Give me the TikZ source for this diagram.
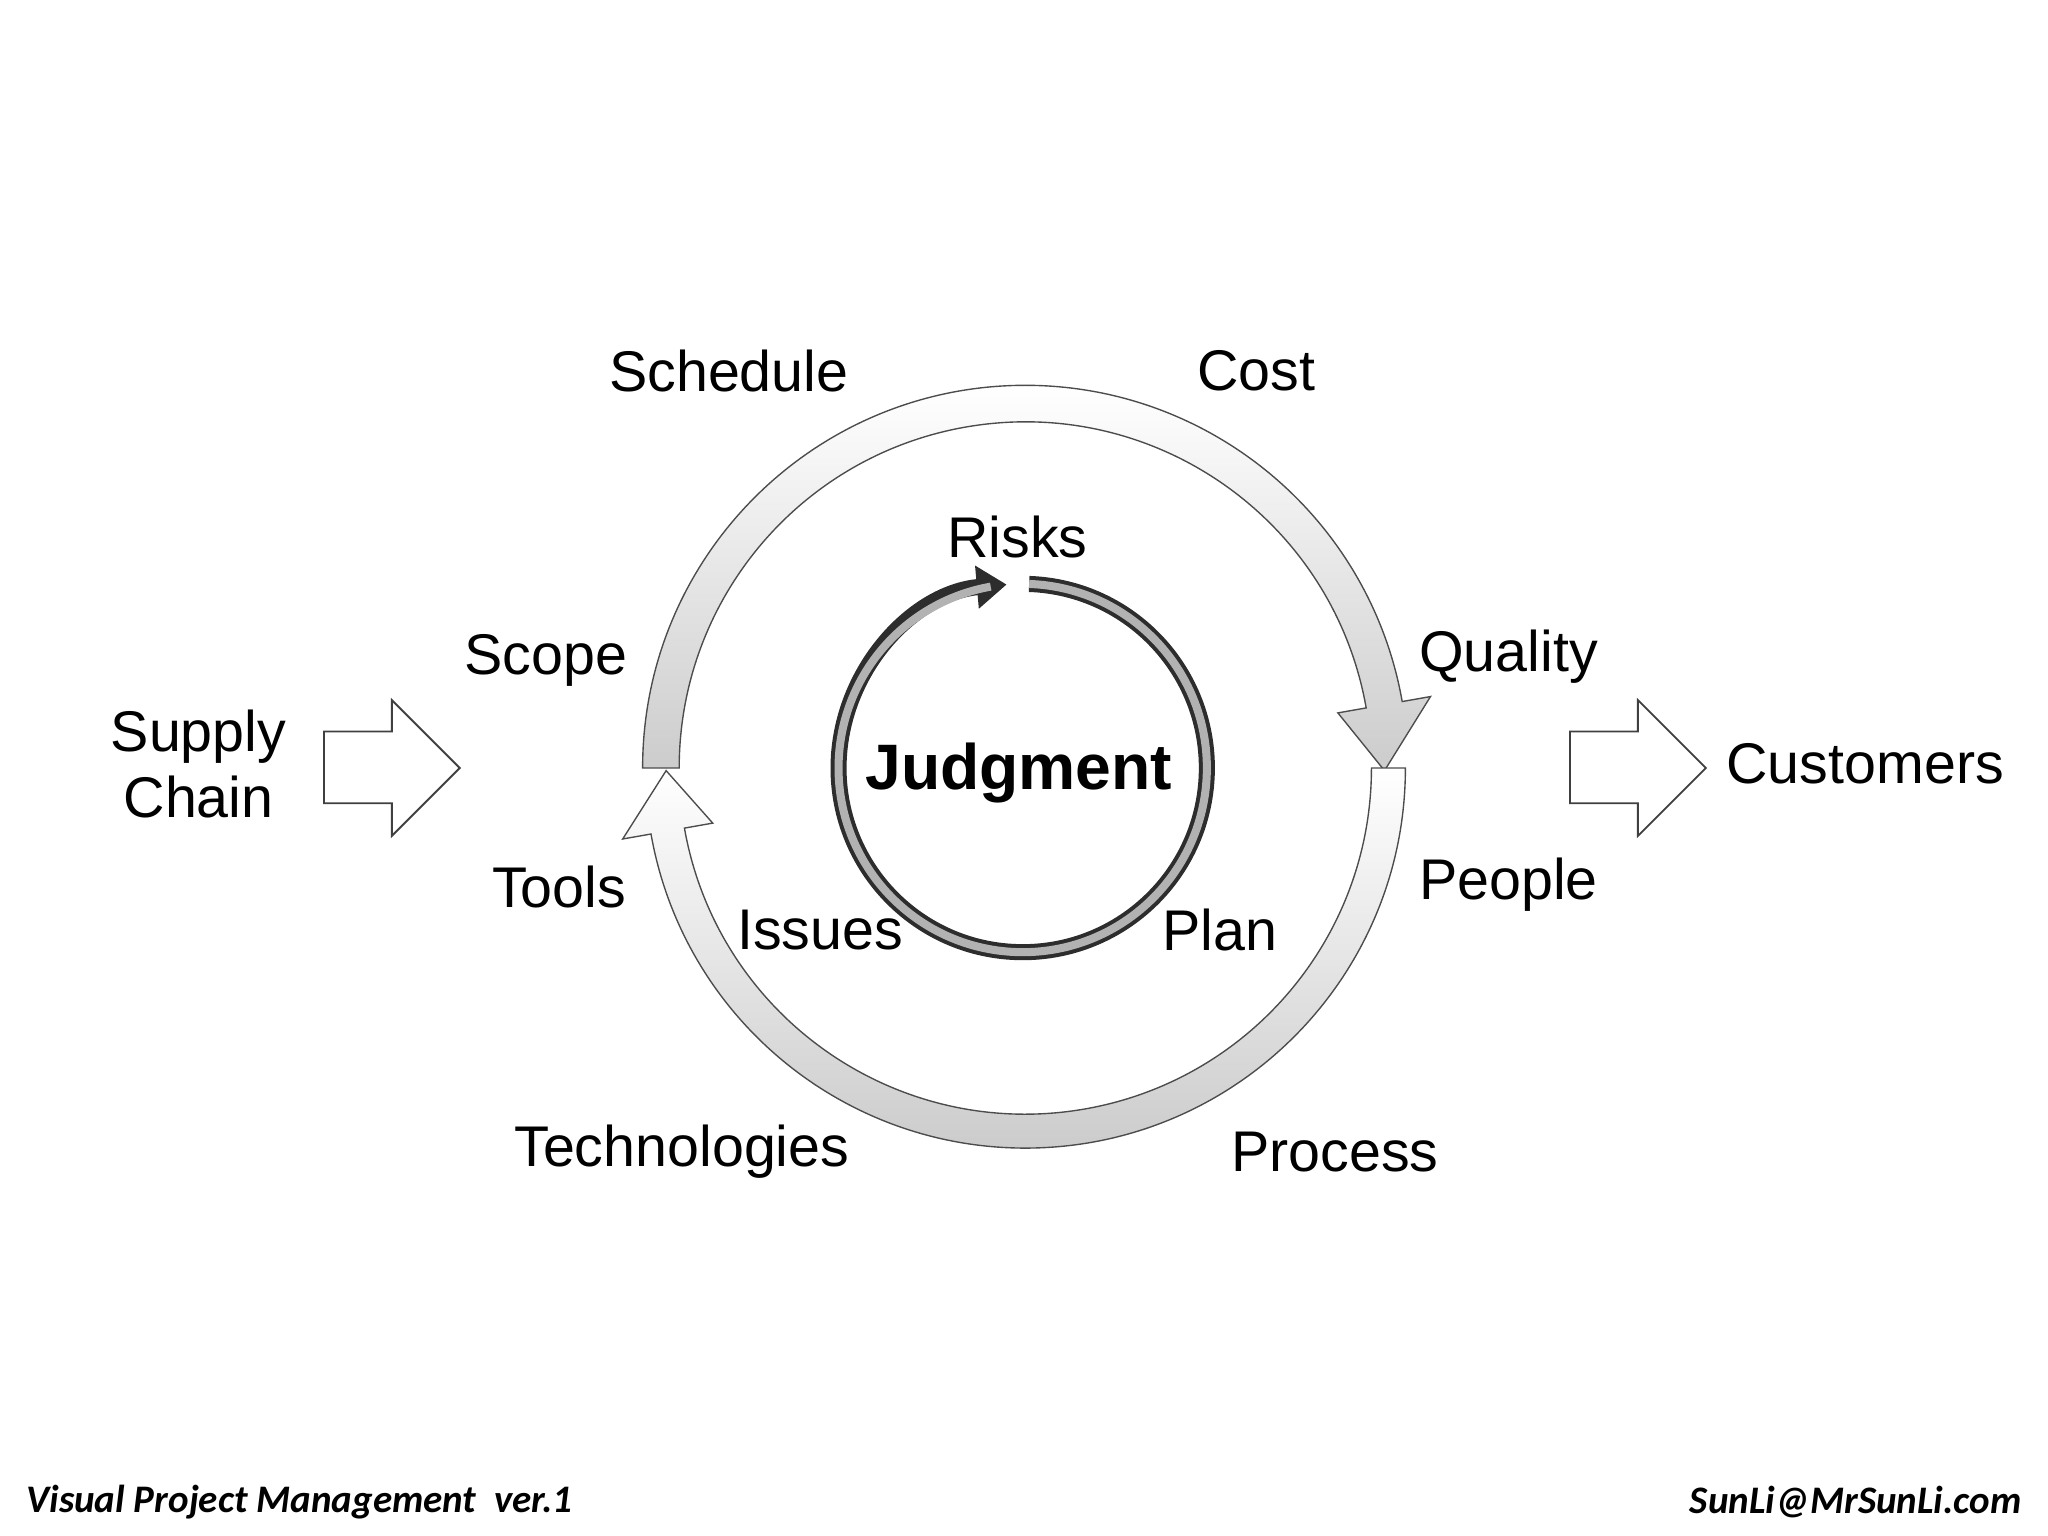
\documentclass[tikz,border=0pt]{standalone}
\usepackage{fontspec}
\setmainfont{Liberation Sans}
\newfontfamily\footfont{Carlito}
\usetikzlibrary{arrows.meta,calc}
\begin{document}
\begin{tikzpicture}[x=0.02cm,y=-0.02cm,
  lbl/.style={font=\fontsize{25}{29}\selectfont},
  bigarrow/.style={draw=black!70,line width=0.6pt,top color=white,bottom color=gray!40},
  blockarrow/.style={draw=black!75,line width=0.8pt,fill=white},
  foot/.style={font=\footfont\bfseries\itshape\fontsize{17}{19}\selectfont}]
\useasboundingbox (0,0) rectangle (1568,1176);
\coordinate (c) at (785,588);
% top arc arrow
\path[bigarrow] (c) ++(180:293) arc (-180:-10:293) -- ++(-10:22)
  -- (1060,590) -- ($(c)+(-10:243)$) -- ($(c)+(-10:265)$) arc (-10:-180:265) -- cycle;
% bottom arc arrow
\path[bigarrow] (c) ++(0:291) arc (0:170:291) -- ++(170:22)
  -- (510,590) -- ($(c)+(170:243)$) -- ($(c)+(170:265)$) arc (170:0:265) -- cycle;
% inner ring
\draw[line width=7pt,gray!35!black,-{Triangle[length=13pt,width=18pt]}]
  (783,588) ++(-88:141) arc (-88:265:141);
\draw[line width=3.5pt,gray!60]
  (783,588) ++(-88:141) arc (-88:260:141);
% block arrows
\path[blockarrow] (248,560) -- (300,560) -- (300,536) -- (352,588) -- (300,640) -- (300,615) -- (248,615) -- cycle;
\path[blockarrow] (1202,560) -- (1254,560) -- (1254,536) -- (1306,588) -- (1254,640) -- (1254,615) -- (1202,615) -- cycle;
% labels
\node[lbl] (sch) at (558,284) {Schedule};
\node[lbl] (cost) at (962,284) {Cost};
\node[lbl] (risk) at (779,411) {Risks};
\node[lbl] (scope) at (418,506) {Scope};
\node[lbl] (qual) at (1155,503) {Quality};
\node[lbl,align=center] (sup) at (152,585) {Supply\\Chain};
\node[lbl] (cust) at (1428,585) {Customers};
\node[font=\bfseries\fontsize{28}{32}\selectfont] (jud) at (780,592) {Judgment};
\node[lbl] (tools) at (428,679) {Tools};
\node[lbl] (peop) at (1155,677) {People};
\node[lbl] (iss) at (628,712) {Issues};
\node[lbl] (plan) at (934,712) {Plan};
\node[lbl] (tech) at (522,882) {Technologies};
\node[lbl] (proc) at (1022,882) {Process};
\node[foot,anchor=west] (fl) at (14,1150) {Visual Project Management\ \ ver.1};
\node[foot,anchor=east] (fr) at (1554,1150) {SunLi@MrSunLi.com};
\end{tikzpicture}
\end{document}
